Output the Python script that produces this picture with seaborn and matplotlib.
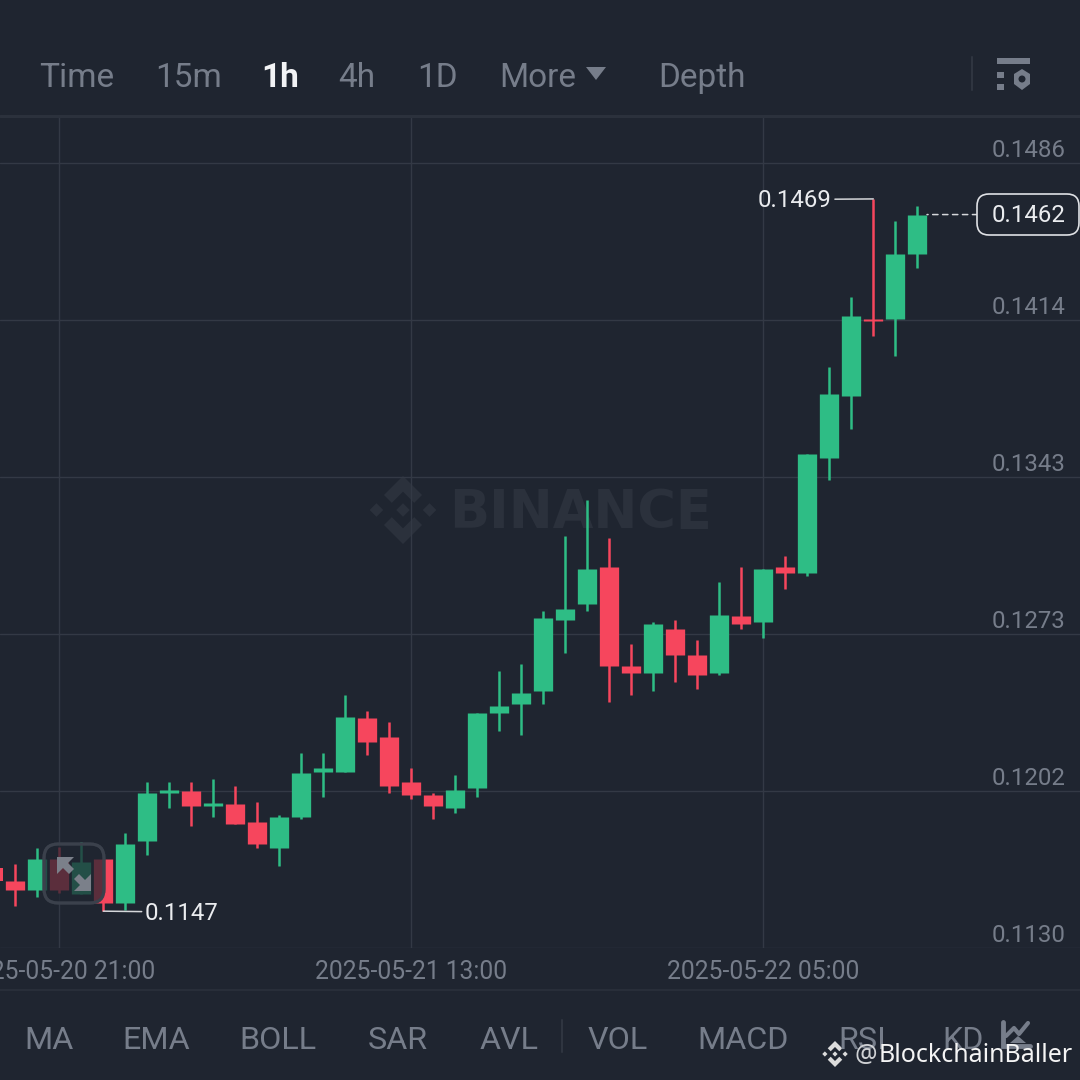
import matplotlib
matplotlib.use('Agg')
import matplotlib.pyplot as plt
import matplotlib.dates as mdates
from matplotlib.patches import FancyBboxPatch, Polygon
import pandas as pd
import seaborn as sns

# 1h candles
opens = [0.11662, 0.11602, 0.11560, 0.11702, 0.11541, 0.11700, 0.11502, 0.11782, 0.12002, 0.12012, 0.11942,
         0.11952, 0.11871, 0.11752, 0.11893, 0.12096, 0.12096, 0.12343, 0.12256, 0.12053, 0.11992, 0.11932,
         0.12023, 0.12365, 0.12406, 0.12466, 0.12787, 0.12858, 0.13029, 0.12578, 0.12546, 0.12748, 0.12627,
         0.12546, 0.12807, 0.12778, 0.13029, 0.12999, 0.13523, 0.13804, 0.14155, 0.14155, 0.14448]
closes = [0.11602, 0.11560, 0.11700, 0.11561, 0.11690, 0.11502, 0.11771, 0.12003, 0.12015, 0.11942, 0.11956,
          0.11862, 0.11771, 0.11893, 0.12094, 0.12115, 0.12345, 0.12234, 0.12033, 0.11992, 0.11942, 0.12014,
          0.12365, 0.12397, 0.12456, 0.12796, 0.12838, 0.13019, 0.12578, 0.12546, 0.12768, 0.12627, 0.12536,
          0.12808, 0.12769, 0.13019, 0.12999, 0.13542, 0.13813, 0.14166, 0.14144, 0.14448, 0.14628]
highs = [0.11680, 0.11680, 0.11752, 0.11758, 0.11780, 0.11700, 0.11821, 0.12053, 0.12053, 0.12053, 0.12064,
         0.12032, 0.11962, 0.11902, 0.12183, 0.12183, 0.12447, 0.12375, 0.12325, 0.12114, 0.12003, 0.12083,
         0.12365, 0.12556, 0.12587, 0.12828, 0.13170, 0.13332, 0.13159, 0.12678, 0.12778, 0.12787, 0.12696,
         0.12960, 0.13029, 0.13019, 0.13079, 0.13542, 0.13935, 0.14255, 0.14699, 0.14599, 0.14668]
lows = [0.11560, 0.11490, 0.11531, 0.11547, 0.11541, 0.11465, 0.11470, 0.11721, 0.11932, 0.11853, 0.11894,
        0.11862, 0.11752, 0.11671, 0.11883, 0.11983, 0.12096, 0.12174, 0.12003, 0.11973, 0.11882, 0.11912,
        0.11983, 0.12284, 0.12265, 0.12406, 0.12637, 0.12829, 0.12416, 0.12447, 0.12465, 0.12506, 0.12475,
        0.12537, 0.12748, 0.12707, 0.12929, 0.12988, 0.13421, 0.13653, 0.14075, 0.13985, 0.14387]

grid_prices = [0.14860, 0.14147, 0.13437, 0.12724, 0.12010, 0.11300]
price_labels = ['0.1486', '0.1414', '0.1343', '0.1273', '0.1202', '0.1130']
high_label = '0.1469'
low_label = '0.1147'
last_label = '0.1462'
time_ticks = ['2025-05-20 21:00', '2025-05-21 13:00', '2025-05-22 05:00']
tabs = ['Time', '15m', '1h', '4h', '1D', 'More', 'Depth']
indicators = ['MA', 'EMA', 'BOLL', 'SAR', 'AVL', 'VOL', 'MACD', 'RSI', 'KD']

BG = '#1f2530'
GRID = '#333945'
GREEN = '#2ebd85'
RED = '#f6465d'
MUTED = '#767d8a'
FONT = 'Roboto'

sns.set_theme(style='darkgrid', rc={'axes.facecolor': 'none', 'figure.facecolor': BG, 'grid.color': GRID,
                                    'grid.linewidth': 1.0, 'axes.edgecolor': BG})
plt.rcParams['font.family'] = [FONT, 'DejaVu Sans']

times = pd.date_range('2025-05-20 18:00', periods=len(opens), freq='h')
candles = pd.DataFrame({'time': times, 'open': opens, 'close': closes, 'high': highs, 'low': lows})
candles['side'] = ['up' if c >= o else 'down' for o, c in zip(opens, closes)]

wicks = candles.melt(id_vars=['time', 'side'], value_vars=['low', 'high'], value_name='price')
bodies = candles.melt(id_vars=['time', 'side'], value_vars=['open', 'close'], value_name='price')

fig = plt.figure(figsize=(10.8, 10.8), dpi=100)


def pixel_axes(z):
    a = fig.add_axes([0, 0, 1, 1], zorder=z)
    a.set_xlim(0, 1080)
    a.set_ylim(1080, 0)
    a.axis('off')
    a.patch.set_alpha(0)
    return a


def binance_logo(a, cx, cy, r, color):
    pts = [[(0, -.2), (.2, 0), (0, .2), (-.2, 0)],
           [(-.78, -.2), (-.58, 0), (-.78, .2), (-.98, 0)],
           [(.78, -.2), (.98, 0), (.78, .2), (.58, 0)],
           [(0, -1), (.56, -.44), (.33, -.21), (0, -.54), (-.33, -.21), (-.56, -.44)],
           [(0, 1), (.56, .44), (.33, .21), (0, .54), (-.33, .21), (-.56, .44)]]
    for shape in pts:
        a.add_patch(Polygon([(cx + r * x, cy + r * y) for x, y in shape], fc=color, ec='none'))


# watermark sits under the candles
back = pixel_axes(0)
binance_logo(back, 403, 510, 34, '#2b313c')
back.text(449, 528, 'BINANCE', color='#2b313c', fontsize=37.8, fontweight='bold', family='DejaVu Sans', va='baseline')

ax = fig.add_axes([0, (1080 - 947.5) / 1080, 1, (947.5 - 117) / 1080], zorder=1)
line_args = dict(x='time', y='price', hue='side', units='time', estimator=None, sort=False, legend=False,
                 palette={'up': GREEN, 'down': RED}, ax=ax, solid_capstyle='butt')
sns.lineplot(data=wicks, linewidth=1.8, **line_args)
sns.lineplot(data=bodies, linewidth=13.9, **line_args)
# first candle's centre is off the canvas, so its line gets dropped; a bar still shows the visible edge
ax.bar(times[0], opens[0] - closes[0], width=pd.Timedelta(hours=19.3 / 22), bottom=closes[0], color=RED,
       edgecolor='none', linewidth=0)

left = pd.Timestamp('2025-05-20 21:00') - pd.Timedelta(hours=59.3 / 22)
ax.set_xlim(left, left + pd.Timedelta(hours=1080 / 22))
ax.set_ylim(0.11300, 0.15071)
ax.set_xticks(pd.to_datetime(time_ticks))
ax.xaxis.set_major_formatter(mdates.DateFormatter('%Y-%m-%d %H:%M'))
ax.set_yticks(grid_prices)
ax.set_yticklabels([])
ax.set_xlabel('')
ax.set_ylabel('')
ax.tick_params(axis='x', length=0, pad=9, labelsize=17.7, labelcolor=MUTED)
ax.tick_params(axis='y', length=0)
ax.set_axisbelow(True)
for s in ax.spines.values():
    s.set_visible(False)

for price, label in zip(grid_prices, price_labels):
    ax.annotate(label, xy=(1, price), xycoords=ax.get_yaxis_transform(), xytext=(-10.2, 9),
                textcoords='offset points', ha='right', va='center', color=MUTED, fontsize=17.3)

# high / low / last price callouts
line_kw = dict(arrowstyle='-', color='#d5d7da', lw=1.1, shrinkA=0, shrinkB=0, relpos=(1, 0.56))
high_at = highs.index(max(highs))
low_at = lows.index(min(lows))
ax.annotate(high_label, xy=(times[high_at], max(highs)), xytext=(-30, -1.2), textcoords='offset points',
            ha='right', va='center', color='#eaecef', fontsize=17.3, arrowprops=line_kw)
ax.annotate(low_label, xy=(times[low_at], min(lows)), xytext=(30, -2), textcoords='offset points',
            ha='left', va='center', color='#eaecef', fontsize=17.3,
            arrowprops=dict(line_kw, relpos=(0, 0.6)))
ax.annotate('', xy=(times[-1], closes[-1]), xytext=(43.5, 0), textcoords='offset points',
            arrowprops=dict(arrowstyle='-', color='#d5d7da', lw=1.1, ls=(0, (3.5, 3)), shrinkA=0, shrinkB=7))

# everything around the plot, in pixels
top = pixel_axes(2)
top.plot([0, 1080], [116, 116], color='#2b313c', lw=2.2)
top.plot([0, 1080], [990, 990], color='#2b313c', lw=1.2)

tab_x = [39.5, 155.5, 261.5, 338.5, 417.5, 499.5, 658.5]
for name, x in zip(tabs, tab_x):
    active = name == '1h'
    top.text(x, 87, name, color='#f2f3f5' if active else MUTED, fontsize=24,
             fontweight='bold' if active else 'normal', va='baseline')
top.add_patch(Polygon([(586, 67), (606, 67), (596, 80)], fc=MUTED, ec='none'))
top.plot([972, 972], [57, 90], color='#2f3540', lw=1.5)

# indicator settings icon
top.add_patch(plt.Rectangle((997, 58), 33, 6, fc=MUTED, ec='none'))
top.add_patch(plt.Rectangle((997, 72), 7, 6, fc=MUTED, ec='none'))
top.add_patch(plt.Rectangle((997, 84), 7, 6, fc=MUTED, ec='none'))
top.add_patch(Polygon([(1022, 69), (1030, 74), (1030, 84), (1022, 90), (1014, 84), (1014, 74)], fc=MUTED, ec='none'))
top.add_patch(plt.Circle((1022, 79), 3.5, fc=BG, ec='none'))

ind_x = [24.5, 122.5, 239.5, 368, 479.5, 588, 697.5, 838.5, 942.5]
for name, x in zip(indicators, ind_x):
    top.text(x, 1049, name, color=MUTED, fontsize=23.3, va='baseline')
top.plot([562, 562], [1020, 1052], color='#2f3540', lw=1.5)

# chart type icon at the bottom right
top.plot([1003, 1003, 1030], [1022, 1046, 1046], color=MUTED, lw=3.5, solid_joinstyle='miter')
top.plot([1006, 1014, 1019, 1028], [1036, 1028, 1034, 1023], color=MUTED, lw=3)
top.add_patch(Polygon([(1018, 1036), (1026, 1043), (1010, 1043)], fc=MUTED, ec='none'))

# last price tag
top.add_patch(FancyBboxPatch((985, 202), 86, 25, boxstyle='round,pad=8,rounding_size=12', fc=BG, ec='#dfe1e5', lw=1.2))
top.text(1028.5, 215.5, last_label, color='#eaecef', fontsize=17.3, ha='center', va='center')

# reset-view button floating over the candles
top.add_patch(FancyBboxPatch((50, 850), 48, 47, boxstyle='round,pad=6,rounding_size=14', fc=BG, ec='#3b414c',
                             lw=2.2, alpha=0.72))
top.add_patch(FancyBboxPatch((50, 850), 48, 47, boxstyle='round,pad=6,rounding_size=14', fc='none', ec='#3b414c', lw=2.2))
top.add_patch(Polygon([(57, 857), (74, 857), (68, 863), (74, 869), (69, 874), (63, 868), (57, 874)], fc='#7b808a', ec='none'))
top.add_patch(Polygon([(91, 891), (74, 891), (80, 885), (74, 879), (79, 874), (85, 880), (91, 874)], fc='#7b808a', ec='none'))

# share watermark
binance_logo(top, 835, 1054, 13, '#dcdcdc')
top.text(855, 1062, '@', color='#cfd1d4', fontsize=18, family='Noto Sans', va='baseline')
top.text(879, 1062, 'BlockchainBaller', color='#f4f4f4', fontsize=18, family='Noto Sans', va='baseline')

fig.savefig('out.png', dpi=100, facecolor=BG)
